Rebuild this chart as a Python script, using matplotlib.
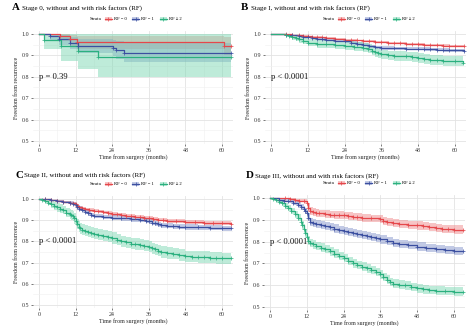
import matplotlib
matplotlib.use("Agg")
import matplotlib.pyplot as plt
from matplotlib.patches import Patch
from matplotlib.lines import Line2D
import numpy as np

plt.rcParams['font.family'] = ['Liberation Serif', 'DejaVu Serif']

strata = ["RF = 0", "RF = 1", "RF \u2265 2"]
line_colors = ["#E5474B", "#3B4FA0", "#2BB07F"]
band_colors = ["#F08A8C", "#8796CC", "#7FD8B4"]

panel_letters = ["A", "B", "C", "D"]
panel_titles = [
    "Stage 0, without and with risk factors (RF)",
    "Stage I, without and with risk factors (RF)",
    "Stage II, without and with risk factors (RF)",
    "Stage III, without and with risk factors (RF)",
]
p_values = ["p = 0.39", "p < 0.0001", "p < 0.0001", "p < 0.0001"]

x_ticks = [0, 12, 24, 36, 48, 60]
y_ticks = [0.5, 0.6, 0.7, 0.8, 0.9, 1.0]
y_tick_labels = ["0.5", "0.6", "0.7", "0.8", "0.9", "1.0"]
x_label = "Time from surgery (months)"
y_label = "Freedom from recurrence"

# ---- Panel A (Stage 0) ----
A_t0 = [0, 7, 10, 12.5, 60.5, 63]
A_s0 = [1.0, 0.99, 0.975, 0.962, 0.943, 0.943]
A_l0 = [1.0, 0.965, 0.945, 0.93, 0.90, 0.90]
A_u0 = [1.0, 0.999, 0.995, 0.99, 0.985, 0.985]
A_t1 = [0, 3.5, 6.7, 10, 12.8, 24.2, 25.3, 28, 63]
A_s1 = [1.0, 0.99, 0.975, 0.96, 0.946, 0.935, 0.925, 0.912, 0.912]
A_l1 = [1.0, 0.97, 0.95, 0.93, 0.91, 0.895, 0.885, 0.87, 0.87]
A_u1 = [1.0, 0.999, 0.995, 0.985, 0.975, 0.97, 0.965, 0.96, 0.96]
A_t2 = [0, 1.6, 7.3, 12.8, 19.3, 63]
A_s2 = [1.0, 0.97, 0.945, 0.92, 0.893, 0.893]
A_l2 = [1.0, 0.928, 0.875, 0.838, 0.80, 0.80]
A_u2 = [1.0, 1.0, 1.0, 1.0, 0.998, 0.998]

# ---- Panel B (Stage I) ----
B_t0 = [0, 5, 7, 9, 10.5, 12, 13.5, 15, 16.5, 18, 21, 24, 26, 28, 30, 32, 34, 36, 38, 40, 42, 44, 46, 48, 50, 52, 54, 56, 58, 60, 63]
B_s0 = [1.0, 0.998, 0.996, 0.994, 0.992, 0.99, 0.988, 0.986, 0.984, 0.982, 0.978, 0.974, 0.972, 0.97, 0.968, 0.966, 0.964, 0.962, 0.96, 0.958, 0.957, 0.955, 0.953, 0.951, 0.95, 0.948, 0.947, 0.946, 0.945, 0.944, 0.943]
B_t1 = [0, 5, 7, 9, 10.5, 12, 13.5, 15, 16.5, 18, 21, 24, 26, 28, 30, 32, 34, 36, 40, 44, 48, 50, 52, 54, 56, 58, 60, 63]
B_s1 = [1.0, 0.997, 0.994, 0.99, 0.988, 0.985, 0.981, 0.978, 0.975, 0.973, 0.969, 0.965, 0.96, 0.955, 0.949, 0.942, 0.937, 0.934, 0.933, 0.932, 0.931, 0.93, 0.928, 0.927, 0.925, 0.924, 0.923, 0.921]
B_t2 = [0, 5, 6, 7, 8, 9, 10.5, 12, 15, 18, 21, 24, 27, 30, 31.5, 33, 34, 35, 36, 38, 40, 44, 46, 48, 50, 52, 54, 56, 60, 62.5]
B_s2 = [1.0, 0.995, 0.99, 0.985, 0.98, 0.975, 0.968, 0.96, 0.955, 0.952, 0.949, 0.946, 0.941, 0.935, 0.93, 0.922, 0.915, 0.91, 0.905, 0.9, 0.898, 0.895, 0.892, 0.889, 0.885, 0.88, 0.877, 0.874, 0.873, 0.865]
B_w = [0.007, 0.01, 0.027]

# ---- Panel C (Stage II) ----
C_t0 = [0, 2, 4, 6, 8, 10, 11, 12, 12.5, 13, 14, 15, 16.5, 18, 19.5, 21, 22.5, 24, 25.5, 27, 28.5, 30, 31.5, 33, 34.5, 36, 37.5, 39, 40.5, 42, 45, 48, 51, 54, 57, 60, 63]
C_s0 = [1.0, 0.998, 0.994, 0.99, 0.986, 0.982, 0.979, 0.975, 0.968, 0.96, 0.956, 0.952, 0.948, 0.945, 0.941, 0.937, 0.933, 0.93, 0.927, 0.925, 0.922, 0.92, 0.917, 0.915, 0.912, 0.909, 0.906, 0.903, 0.9, 0.898, 0.895, 0.892, 0.89, 0.888, 0.887, 0.886, 0.884]
C_t1 = [0, 2, 4, 6, 8, 10, 11, 12, 12.5, 13, 14, 15, 16, 17, 18, 21, 24, 27, 30, 33, 35, 36, 37, 38, 39, 40, 42, 44, 46, 48, 52, 56, 60, 63]
C_s1 = [1.0, 0.998, 0.994, 0.99, 0.986, 0.982, 0.978, 0.972, 0.963, 0.955, 0.948, 0.94, 0.932, 0.925, 0.92, 0.915, 0.912, 0.908, 0.905, 0.902, 0.898, 0.894, 0.889, 0.885, 0.881, 0.877, 0.874, 0.871, 0.869, 0.868, 0.866, 0.864, 0.862, 0.861]
C_t2 = [0, 1, 2, 3, 4, 5, 6, 7, 8, 9, 10, 10.5, 11, 11.5, 12, 12.5, 13, 13.5, 14, 15, 16, 17, 18, 19.5, 21, 22.5, 24, 25.5, 27, 28.5, 30, 31.5, 33, 34.5, 36, 37, 38, 39, 40, 42, 44, 46, 48, 50, 52, 54, 56, 58, 60, 63]
C_s2 = [1.0, 0.995, 0.99, 0.983, 0.975, 0.968, 0.96, 0.954, 0.948, 0.936, 0.93, 0.925, 0.92, 0.908, 0.895, 0.882, 0.87, 0.862, 0.855, 0.85, 0.845, 0.84, 0.836, 0.831, 0.826, 0.821, 0.816, 0.808, 0.80, 0.795, 0.79, 0.788, 0.785, 0.78, 0.775, 0.768, 0.762, 0.756, 0.75, 0.746, 0.742, 0.736, 0.73, 0.728, 0.727, 0.726, 0.724, 0.722, 0.72, 0.72]
C_w = [0.011, 0.014, 0.029]

# ---- Panel D (Stage III) ----
D_t0 = [0, 5, 6.5, 8, 9.5, 11, 12, 12.5, 13, 14, 15, 16, 18, 19.5, 21, 22.5, 24, 25.5, 27, 28.5, 30, 33, 36, 37, 38, 40, 42, 45, 48, 50, 52, 54, 56, 58, 60, 63]
D_s0 = [1.0, 0.998, 0.994, 0.99, 0.988, 0.985, 0.975, 0.955, 0.94, 0.935, 0.932, 0.93, 0.926, 0.924, 0.923, 0.921, 0.92, 0.917, 0.915, 0.911, 0.908, 0.906, 0.903, 0.895, 0.888, 0.884, 0.88, 0.877, 0.874, 0.87, 0.866, 0.862, 0.859, 0.857, 0.855, 0.853]
D_t1 = [0, 3, 4.5, 6, 7.5, 9, 10, 11, 11.5, 12, 12.5, 13, 14, 15, 16.5, 18, 19.5, 21, 22.5, 24, 25.5, 27, 28.5, 30, 31.5, 33, 34.5, 36, 38, 40, 42, 45, 48, 51, 54, 57, 60, 63]
D_s1 = [1.0, 0.99, 0.988, 0.985, 0.978, 0.97, 0.96, 0.95, 0.94, 0.93, 0.91, 0.89, 0.885, 0.88, 0.875, 0.87, 0.865, 0.86, 0.855, 0.85, 0.845, 0.84, 0.835, 0.83, 0.825, 0.82, 0.815, 0.81, 0.803, 0.795, 0.79, 0.784, 0.777, 0.77, 0.765, 0.762, 0.758, 0.755]
D_t2 = [0, 1, 2, 3, 4, 5, 6, 7, 8, 9, 10, 10.5, 11, 11.5, 12, 12.5, 13, 14, 15, 16.5, 18, 19.5, 21, 22.5, 24, 25.5, 27, 28.5, 30, 31.5, 33, 34.5, 36, 37, 38, 39, 40, 42, 44, 46, 48, 50, 52, 54, 57, 60, 63]
D_s2 = [1.0, 0.995, 0.99, 0.983, 0.975, 0.965, 0.955, 0.94, 0.925, 0.91, 0.89, 0.875, 0.86, 0.84, 0.82, 0.805, 0.795, 0.787, 0.78, 0.772, 0.765, 0.755, 0.745, 0.735, 0.725, 0.712, 0.70, 0.692, 0.685, 0.678, 0.67, 0.66, 0.65, 0.637, 0.625, 0.615, 0.607, 0.603, 0.6, 0.592, 0.585, 0.581, 0.578, 0.575, 0.573, 0.57, 0.568]
D_w = [0.022, 0.021, 0.021]

# layout in pixels: (left, right, top, bottom) of each axes
W, H = 474.0, 326.0
axes_px = [
    (32.9, 232.7, 30.8, 144.2),
    (264.9, 465.7, 30.8, 144.2),
    (32.9, 232.7, 195.8, 308.2),
    (263.9, 464.7, 194.7, 310.3),
]
title_px = [(12, 21.5, 8), (241, 250.5, 8), (16, 24, 175), (246, 255, 176)]
legend_px = [(90, 19), (323, 19), (90, 184), (323, 183)]


def km_panel(ax, curves):
    for i, (t, s, lo, hi) in enumerate(curves):
        ax.fill_between(t, lo, hi, step="post", color=band_colors[i], alpha=0.5, lw=0, zorder=2)
    for i, (t, s, lo, hi) in enumerate(curves):
        ax.step(t, s, where="post", color=line_colors[i], lw=0.9, zorder=3)
        ax.plot(t[1:], s[1:], ls="none", marker="+", ms=2.2, mew=0.5, color=line_colors[i], zorder=4)


def sym_band(t, s, w):
    lo = [min(1.0, v - w * (1 - v) / (1 - v + 0.02) if v < 1 else v) for v in s]
    hi = [min(1.0, v + w * (1 - v) / (1 - v + 0.02) if v < 1 else v) for v in s]
    return (t, s, lo, hi)


panels = [
    [(A_t0, A_s0, A_l0, A_u0), (A_t1, A_s1, A_l1, A_u1), (A_t2, A_s2, A_l2, A_u2)],
    [sym_band(B_t0, B_s0, B_w[0]), sym_band(B_t1, B_s1, B_w[1]), sym_band(B_t2, B_s2, B_w[2])],
    [sym_band(C_t0, C_s0, C_w[0]), sym_band(C_t1, C_s1, C_w[1]), sym_band(C_t2, C_s2, C_w[2])],
    [sym_band(D_t0, D_s0, D_w[0]), sym_band(D_t1, D_s1, D_w[1]), sym_band(D_t2, D_s2, D_w[2])],
]

fig = plt.figure(figsize=(W / 100, H / 100), dpi=100)
fig.patch.set_facecolor("white")

for k in range(4):
    l, r, t, b = axes_px[k]
    ax = fig.add_axes([l / W, 1 - b / H, (r - l) / W, (b - t) / H])
    ax.set_xlim(-2, 63.5)
    ax.set_ylim(0.485, 1.015)
    ax.set_xticks(x_ticks)
    ax.set_xticks([6, 18, 30, 42, 54], minor=True)
    ax.set_yticks(y_ticks)
    ax.set_yticklabels(y_tick_labels)
    ax.set_yticks([0.55, 0.65, 0.75, 0.85, 0.95], minor=True)
    ax.grid(True, which="major", color="#E3E3E3", lw=0.6, zorder=0)
    ax.grid(True, which="minor", color="#F0F0F0", lw=0.4, zorder=0)
    ax.set_axisbelow(True)
    for sp in ax.spines.values():
        sp.set_visible(False)
    ax.tick_params(axis="both", which="major", length=1.5, width=0.5, color="#444444",
                   labelsize=4.3, pad=1.2, labelcolor="#333333")
    ax.tick_params(axis="both", which="minor", length=0)
    ax.set_xlabel(x_label, fontsize=4.3, labelpad=1, color="#222222")
    ax.set_ylabel(y_label, fontsize=4.3, labelpad=2, color="#222222")
    km_panel(ax, panels[k])
    ax.text(0, 0.8, p_values[k], fontsize=6.2, ha="left", va="center", color="#111111", zorder=5)

    lx, tx, ty = title_px[k]
    fig.text(lx / W, 1 - ty / H, panel_letters[k], fontsize=7.8, fontweight="bold", ha="left", va="center")
    fig.text(tx / W, 1 - ty / H, panel_titles[k], fontsize=5.0, ha="left", va="center")

    gx, gy = legend_px[k]
    fig.text(gx / W, 1 - gy / H, "Strata", fontsize=3.6, ha="left", va="center")
    handles = [(Patch(facecolor=band_colors[i], alpha=0.5, edgecolor="none"),
                Line2D([], [], color=line_colors[i], lw=0.9, marker="+", ms=2.2, mew=0.5))
               for i in range(3)]
    fig.legend(handles, strata, loc="center left", bbox_to_anchor=((gx + 15) / W, 1 - gy / H),
               ncol=3, fontsize=3.3, frameon=False, handlelength=1.5, handleheight=0.9,
               handletextpad=0.4, columnspacing=1.3, borderpad=0, borderaxespad=0)

fig.savefig("out.png", dpi=100, facecolor="white")
